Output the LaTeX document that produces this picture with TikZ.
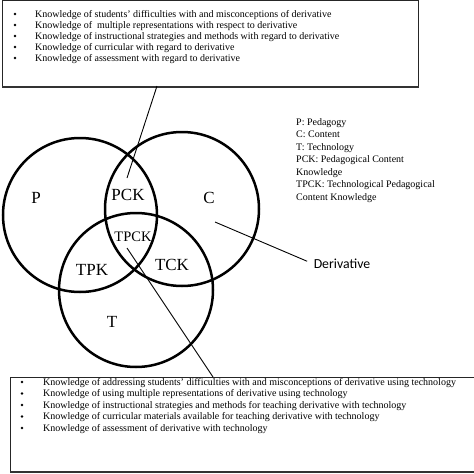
\documentclass[tikz,border=0pt]{standalone}
\usepackage{fontspec}
\setmainfont{Liberation Serif}
\newfontfamily\derivfont{Carlito}
\usetikzlibrary{positioning}

\tikzset{
  venn/.style={circle, draw, line width=2.5pt, minimum size=154pt, inner sep=0pt},
  region/.style={inner sep=0pt, font=\fontsize{17}{20}\selectfont},
  infobox/.style={draw=black!85, line width=0.9pt, inner sep=0pt, anchor=north west},
  itemtext/.style={anchor=base west, inner sep=0pt, font=\fontsize{10}{12}\selectfont},
  legendtext/.style={anchor=base west, inner sep=0pt, font=\fontsize{10}{12}\selectfont},
  bulletdot/.style={circle, fill, inner sep=0pt, minimum size=2.8pt},
  leader/.style={line width=0.9pt},
}

\begin{document}
\begin{tikzpicture}[x=1pt, y=-1pt]
\useasboundingbox (0,0) rectangle (474,474);

% top box: PCK
\node[infobox, minimum width=416pt, minimum height=86pt] (pckbox) at (2,0) {};
\draw[line width=1.6pt, black!80] (pckbox.south west) -- (pckbox.south east);
\foreach \y/\txt [count=\i] in {
    17/Knowledge of students’ difficulties with and misconceptions of derivative,
    28/Knowledge of \ multiple representations with respect to derivative,
    39/Knowledge of instructional strategies and methods with regard to derivative,
    50/Knowledge of curricular with regard to derivative,
    61/Knowledge of assessment with regard to derivative}{
    \node[bulletdot] (pckdot\i) at (15,\y-3) {};
    \node[itemtext] (pckitem\i) at (35,\y) {\txt};
}

% bottom box: TPCK
\node[infobox, minimum width=470pt, minimum height=94pt] (tpckbox) at (10,377) {};
\draw[line width=1.6pt, black!80] (tpckbox.south west) -- (tpckbox.south east);
\foreach \y/\txt [count=\i] in {
    385/Knowledge of addressing students’ difficulties with and misconceptions of derivative using technology,
    396.5/Knowledge of using multiple representations of derivative using technology,
    408/Knowledge of instructional strategies and methods for teaching derivative with technology,
    419.5/Knowledge of curricular materials available for teaching derivative with technology,
    431/Knowledge of assessment of derivative with technology}{
    \node[bulletdot] (tpckdot\i) at (22,\y-3) {};
    \node[itemtext] (tpckitem\i) at (43,\y) {\txt};
}

% the three circles
\node[venn] (pcirc) at (80,215) {};
\node[venn] (ccirc) at (182,209) {};
\node[venn] (tcirc) at (136,290) {};

\node[region] (plab) at (36,198) {P};
\node[region] (clab) at (209,198) {C};
\node[region] (tlab) at (112,322) {T};
\node[region] (pcklab) at (128,195) {PCK};
\node[region] (tpklab) at (92,270) {TPK};
\node[region] (tcklab) at (172,265) {TCK};
\node[region, font=\fontsize{14.5}{17}\selectfont] (tpcklab) at (133,237) {TPCK};

% legend
\foreach \y/\txt [count=\i] in {
    125/P: Pedagogy, 137.5/C: Content, 150/T: Technology,
    162.5/PCK: Pedagogical Content, 175/Knowledge,
    187.5/TPCK: Technological Pedagogical, 200/Content Knowledge}{
    \node[legendtext] (leg\i) at (296,\y) {\txt};
}

% leaders
\coordinate (pckfoot) at (157,86);
\coordinate (pcktip) at (127,178);
\draw[leader] (pckfoot) -- (pcktip);
\coordinate (tpcktip) at (127,248);
\coordinate (tpckfoot) at (213,377);
\draw[leader] (tpcktip) -- (tpckfoot);
\node[inner sep=0pt, font=\derivfont\fontsize{13.8}{16}\selectfont] (deriv) at (342,264) {Derivative};
\coordinate (ctip) at (215,222);
\draw[leader, shorten >=7pt] (ctip) -- (deriv.west);
\end{tikzpicture}
\end{document}
